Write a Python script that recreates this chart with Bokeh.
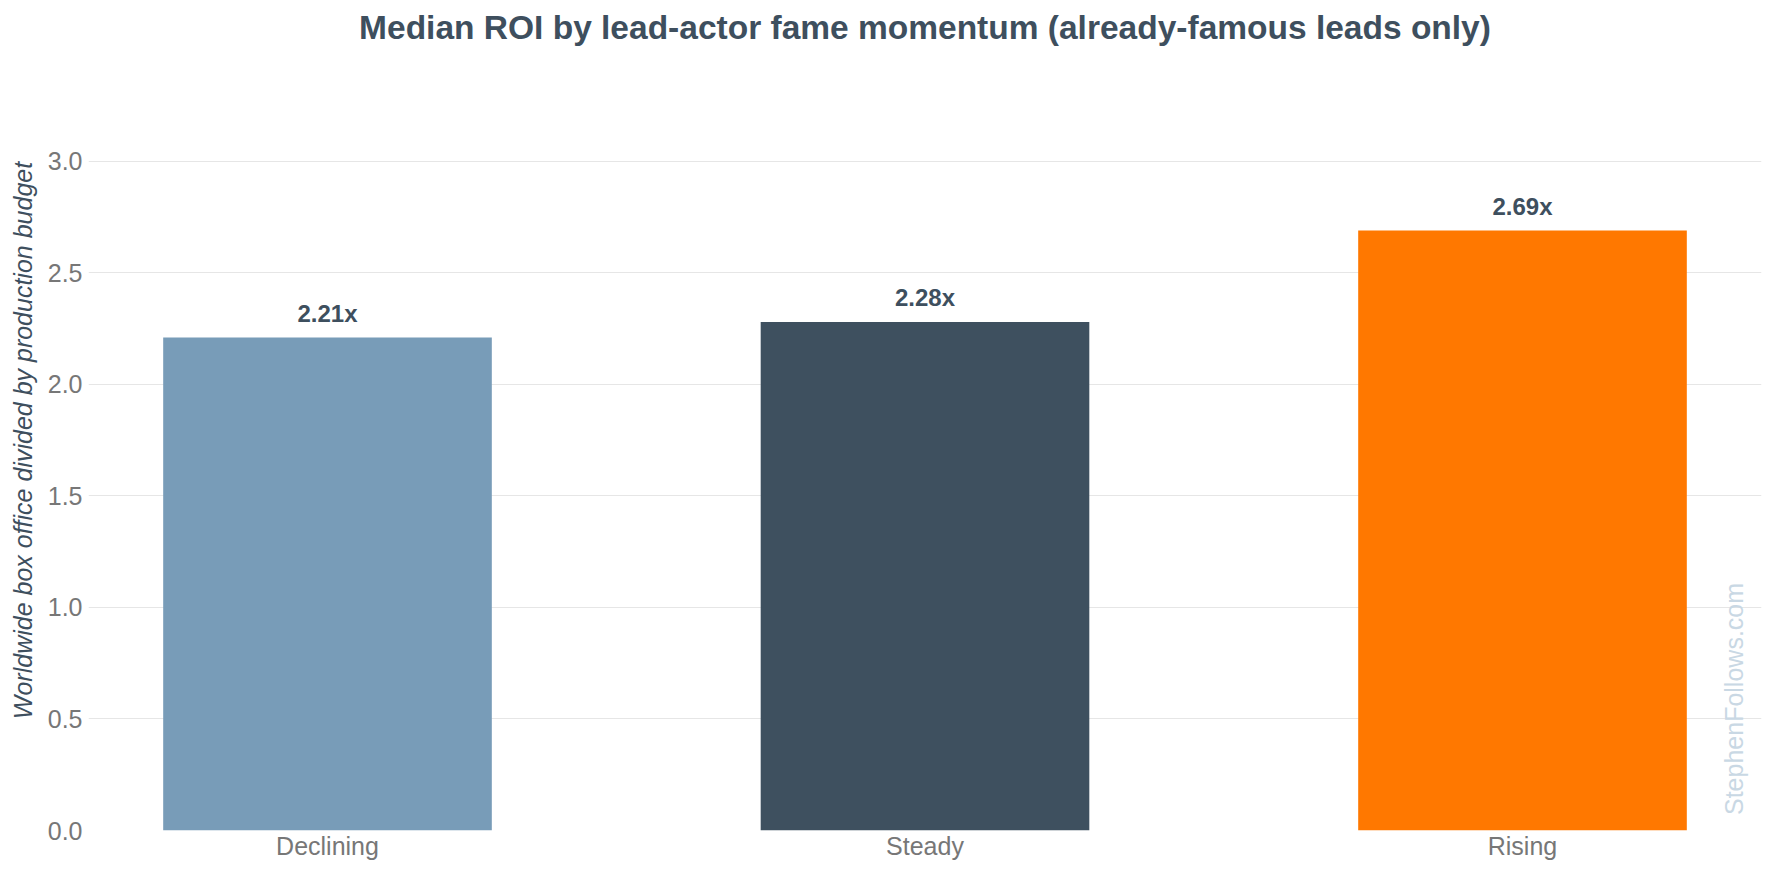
import math
from bokeh.plotting import figure
from bokeh.models import (Range1d, FixedTicker, Label, LabelSet, ColumnDataSource,
                          CustomJSTickFormatter)
from bokeh.core.properties import value
from bokeh.embed import file_html
from bokeh.resources import INLINE

categories = ["Declining", "Steady", "Rising"]
roi_values = [2.21, 2.28, 2.69]
bar_colors = ["#789cb8", "#3e505f", "#ff7800"]
y_ticks = [0.0, 0.5, 1.0, 1.5, 2.0, 2.5, 3.0]

TITLE = "Median ROI by lead-actor fame momentum (already-famous leads only)"
Y_LABEL = "Worldwide box office divided by production budget"
WATERMARK = "StephenFollows.com"
DARK = "#3e4f5e"
FONT = "Liberation Sans"

idx = list(range(len(categories)))
src = ColumnDataSource(dict(
    x=idx,
    top=roi_values,
    color=bar_colors,
    label=[f"{v:.2f}x" for v in roi_values],
))

y_max = max(roi_values) * 1.3

p = figure(width=1776, height=876, output_backend="svg", toolbar_location=None,
           x_range=Range1d(-0.4, 2.4), y_range=Range1d(0, y_max),
           min_border_left=88, min_border_right=15, min_border_top=50,
           min_border_bottom=46, background_fill_color="white",
           border_fill_color="white", outline_line_color=None)

p.vbar(x="x", top="top", width=0.55, color="color", line_color=None, source=src)

labels = LabelSet(x="x", y="top", text="label", source=src, y_offset=16,
                  text_align="center", text_baseline="alphabetic",
                  text_font=value(FONT), text_font_style="bold",
                  text_font_size="24px", text_color=DARK)
p.add_layout(labels)

# axes
p.xaxis.ticker = FixedTicker(ticks=idx)
p.xaxis.major_label_overrides = {i: c for i, c in zip(idx, categories)}
p.yaxis.ticker = FixedTicker(ticks=y_ticks)
p.yaxis.formatter = CustomJSTickFormatter(code="return tick.toFixed(1);")

for ax in (p.xaxis[0], p.yaxis[0]):
    ax.axis_line_color = None
    ax.major_tick_line_color = None
    ax.minor_tick_line_color = None
    ax.major_tick_out = 0
    ax.major_tick_in = 0
    ax.minor_tick_out = 0
    ax.minor_tick_in = 0
    ax.major_label_text_font = FONT
    ax.major_label_text_font_size = "25px"
    ax.major_label_text_color = "#777777"

p.xaxis.major_label_standoff = 1
p.yaxis.major_label_standoff = 6
p.yaxis.axis_label = Y_LABEL
p.yaxis.axis_label_text_font = FONT
p.yaxis.axis_label_text_font_style = "italic"
p.yaxis.axis_label_text_font_size = "25px"
p.yaxis.axis_label_text_color = DARK
p.yaxis.axis_label_standoff = 8

p.xgrid.grid_line_color = None
p.ygrid.grid_line_color = "#e6e6e6"
p.ygrid.grid_line_width = 1

p.title.text = TITLE
p.title.align = "center"
p.title.vertical_align = "bottom"
p.title.standoff = 10
p.title.text_font = FONT
p.title.text_font_style = "bold"
p.title.text_font_size = "33.5px"
p.title.text_color = DARK

wm = Label(x=1733 - 88, y=830.5 - 815, x_units="screen", y_units="screen",
           text=WATERMARK, angle=math.pi / 2, text_align="left",
           text_baseline="middle", text_font=FONT, text_font_size="25px",
           text_color="#c9d8e4")
p.add_layout(wm)

open("out.html", "w").write(file_html(p, INLINE))
